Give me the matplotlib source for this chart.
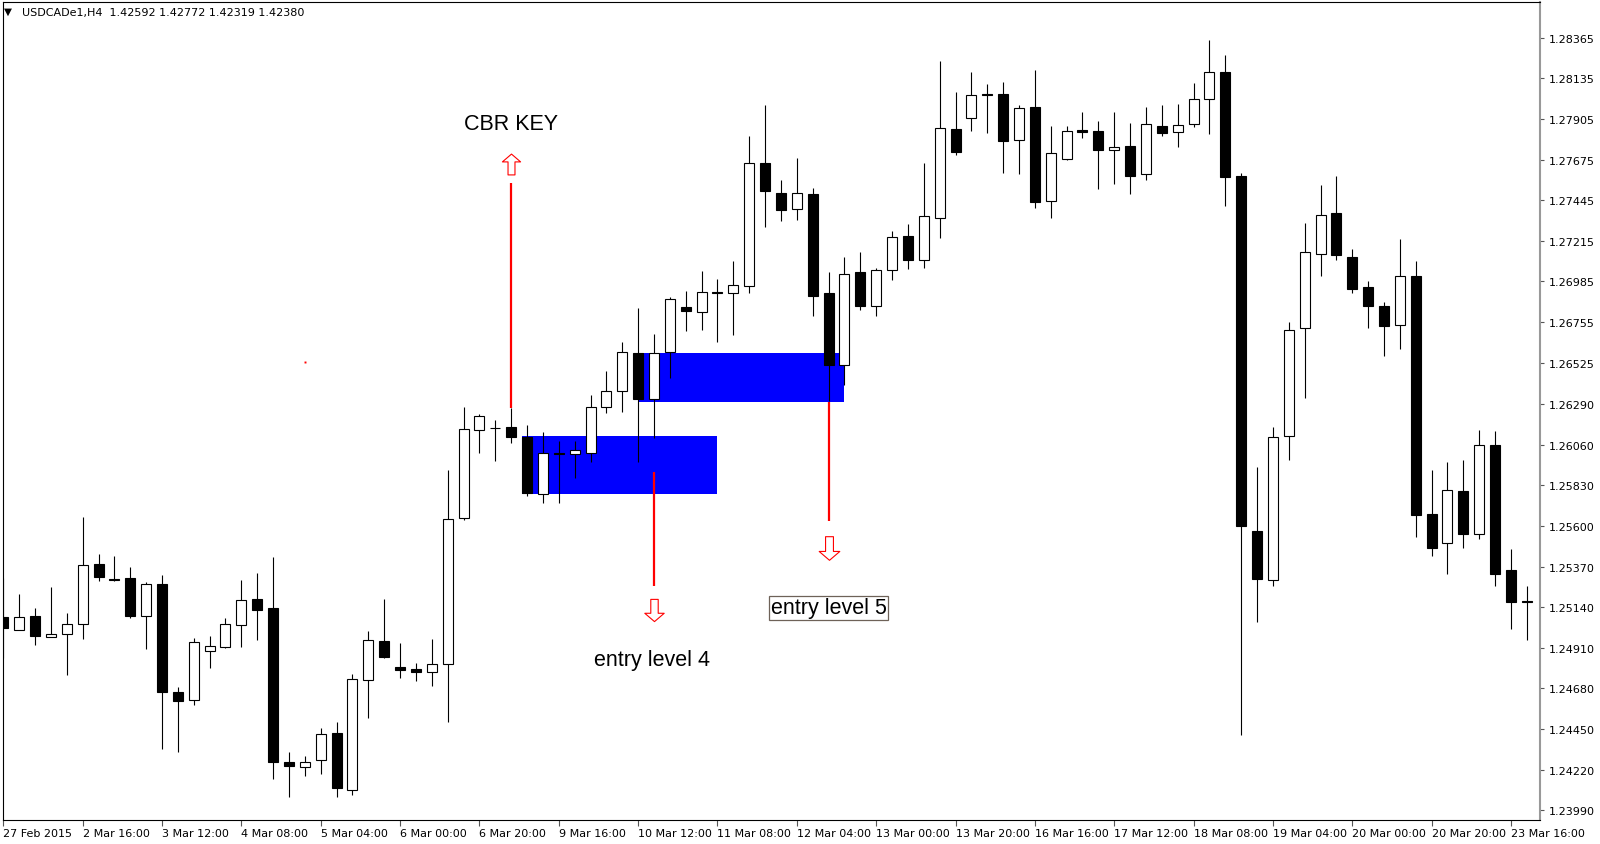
import numpy as np
import matplotlib.pyplot as plt
from matplotlib.path import Path

# USDCAD H4 candles, 27 Feb 2015 20:00 .. 23 Mar 2015 20:00
opens = [1.25086, 1.25010, 1.25088, 1.24971, 1.24986, 1.25046, 1.25386, 1.25296, 1.25303, 1.25091,
         1.25269, 1.24658, 1.24613, 1.24891, 1.24912, 1.25037, 1.25186, 1.25135, 1.24263, 1.24235,
         1.24274, 1.24425, 1.24104, 1.24729, 1.24948, 1.24803, 1.24791, 1.24774, 1.24820, 1.25643,
         1.26145, 1.26155, 1.26162, 1.26105, 1.25779, 1.26013, 1.26006, 1.26011, 1.26276, 1.26365,
         1.26580, 1.26319, 1.26584, 1.26842, 1.26814, 1.26925, 1.26917, 1.26959, 1.27656, 1.27487,
         1.27397, 1.27482, 1.26917, 1.26513, 1.27039, 1.26846, 1.27048, 1.27243, 1.27105, 1.27346,
         1.27849, 1.27909, 1.28044, 1.28049, 1.27784, 1.27972, 1.27443, 1.27679, 1.27843, 1.27836,
         1.27730, 1.27752, 1.27591, 1.27864, 1.27830, 1.27875, 1.28019, 1.28174, 1.27585, 1.25574,
         1.25296, 1.26107, 1.26722, 1.27143, 1.27370, 1.27121, 1.26952, 1.26843, 1.26738, 1.27013,
         1.25665, 1.25503, 1.25798, 1.25554, 1.26061, 1.25350, 1.25172]
highs = [1.25303, 1.25213, 1.25133, 1.25253, 1.25105, 1.25650, 1.25439, 1.25431, 1.25369, 1.25281,
         1.25320, 1.24686, 1.24965, 1.24978, 1.25079, 1.25294, 1.25333, 1.25422, 1.24319, 1.24296,
         1.24455, 1.24489, 1.24761, 1.25005, 1.25186, 1.24937, 1.24826, 1.24959, 1.25917, 1.26272,
         1.26234, 1.26202, 1.26268, 1.26172, 1.26130, 1.26079, 1.26083, 1.26342, 1.26475, 1.26640,
         1.26833, 1.26687, 1.26897, 1.26933, 1.27043, 1.26996, 1.27099, 1.27807, 1.27983, 1.27561,
         1.27684, 1.27516, 1.27039, 1.27122, 1.27152, 1.27060, 1.27271, 1.27309, 1.27656, 1.28236,
         1.28058, 1.28173, 1.28102, 1.28113, 1.27983, 1.28184, 1.27864, 1.27864, 1.27943, 1.27892,
         1.27943, 1.27880, 1.27972, 1.27983, 1.27989, 1.28109, 1.28350, 1.28265, 1.27602, 1.25931,
         1.26158, 1.26757, 1.27318, 1.27534, 1.27580, 1.27168, 1.26985, 1.26871, 1.27225, 1.27098,
         1.25917, 1.25962, 1.25976, 1.26146, 1.26140, 1.25469, 1.25257]
lows = [1.24852, 1.25008, 1.24927, 1.24970, 1.24757, 1.24958, 1.25290, 1.25286, 1.25077, 1.24901,
        1.24335, 1.24321, 1.24587, 1.24794, 1.24908, 1.24914, 1.24952, 1.24166, 1.24064, 1.24182,
        1.24193, 1.24064, 1.24076, 1.24513, 1.24854, 1.24739, 1.24719, 1.24695, 1.24488, 1.25634,
        1.26015, 1.25969, 1.26068, 1.25768, 1.25729, 1.25729, 1.25869, 1.25962, 1.26240, 1.26244,
        1.25964, 1.26096, 1.26440, 1.26706, 1.26710, 1.26641, 1.26683, 1.26917, 1.27296, 1.27329,
        1.27335, 1.26787, 1.26307, 1.26401, 1.26824, 1.26789, 1.26994, 1.27053, 1.27063, 1.27233,
        1.27703, 1.27839, 1.27828, 1.27599, 1.27592, 1.27399, 1.27343, 1.27674, 1.27796, 1.27507,
        1.27536, 1.27480, 1.27558, 1.27807, 1.27745, 1.27862, 1.27820, 1.27415, 1.24413, 1.25053,
        1.25257, 1.25974, 1.26327, 1.27018, 1.27104, 1.26918, 1.26722, 1.26563, 1.26602, 1.25540,
        1.25427, 1.25326, 1.25474, 1.25526, 1.25257, 1.25016, 1.24954]
closes = [1.25022, 1.25083, 1.24976, 1.24988, 1.25043, 1.25380, 1.25312, 1.25294, 1.25091, 1.25269,
          1.24661, 1.24607, 1.24941, 1.24920, 1.25043, 1.25179, 1.25125, 1.24263, 1.24240, 1.24263,
          1.24420, 1.24117, 1.24735, 1.24952, 1.24856, 1.24784, 1.24774, 1.24816, 1.25639, 1.26151,
          1.26224, 1.26152, 1.26105, 1.25785, 1.26015, 1.26010, 1.26030, 1.26276, 1.26364, 1.26584,
          1.26319, 1.26578, 1.26887, 1.26817, 1.26924, 1.26917, 1.26963, 1.27656, 1.27497, 1.27391,
          1.27484, 1.26903, 1.26513, 1.27027, 1.26846, 1.27050, 1.27235, 1.27105, 1.27354, 1.27853,
          1.27717, 1.28043, 1.28041, 1.27779, 1.27966, 1.27437, 1.27711, 1.27836, 1.27830, 1.27728,
          1.27747, 1.27585, 1.27875, 1.27824, 1.27870, 1.28017, 1.28169, 1.27577, 1.25597, 1.25302,
          1.26101, 1.26710, 1.27149, 1.27364, 1.27135, 1.26940, 1.26843, 1.26733, 1.27013, 1.25662,
          1.25474, 1.25803, 1.25554, 1.26061, 1.25330, 1.25169, 1.25169]

date_labels = ['27 Feb 2015', '2 Mar 16:00', '3 Mar 12:00', '4 Mar 08:00', '5 Mar 04:00',
               '6 Mar 00:00', '6 Mar 20:00', '9 Mar 16:00', '10 Mar 12:00', '11 Mar 08:00',
               '12 Mar 04:00', '13 Mar 00:00', '13 Mar 20:00', '16 Mar 16:00', '17 Mar 12:00',
               '18 Mar 08:00', '19 Mar 04:00', '20 Mar 00:00', '20 Mar 20:00', '23 Mar 16:00']
price_ticks = ['1.28365', '1.28135', '1.27905', '1.27675', '1.27445', '1.27215', '1.26985',
               '1.26755', '1.26525', '1.26290', '1.26060', '1.25830', '1.25600', '1.25370',
               '1.25140', '1.24910', '1.24680', '1.24450', '1.24220', '1.23990']

# supply/demand zones (bar index from, bar index to, low, high)
zone1 = (32.7, 44.95, 1.25779, 1.26108)
zone2 = (40.0, 52.95, 1.26300, 1.26580)

header = 'USDCADe1,H4  1.42592 1.42772 1.42319 1.42380'

opens = np.array(opens)
closes = np.array(closes)
x = np.arange(len(opens))

fig = plt.figure(figsize=(16, 8.45), dpi=100)
ax = fig.add_axes([3/1600, 1 - 821/845, 1537/1600, 818/845])

# zones
for z in (zone1, zone2):
    ax.fill_between([z[0], z[1]], z[2], z[3], color='#0000ff', lw=0, zorder=1)

# candles
bull = closes > opens
body_lo = np.minimum(opens, closes)
body_h = np.maximum(np.abs(closes - opens), 0.00003)
ax.vlines(x, lows, highs, colors='black', lw=0.8, zorder=2)
ax.bar(x, body_h, bottom=body_lo, width=0.63,
       color=np.where(bull, 'white', 'black'), edgecolor='black', linewidth=0.8, zorder=3)

# red markers
ax.vlines([32], 1.26268, 1.27544, colors='red', lw=1.6, zorder=4)
ax.vlines([41], 1.25257, 1.25907, colors='red', lw=1.6, zorder=4)
ax.vlines([52], 1.25628, 1.26300, colors='red', lw=1.6, zorder=4)
ax.plot([19], [1.26529], marker='s', ms=1.4, color='red', mew=0)

down = Path([(0, -12), (10.5, -3), (4, -3), (4, 12), (-4, 12), (-4, -3), (-10.5, -3), (0, -12)],
            closed=True)
up = Path([(0, 12), (10.5, 3), (4, 3), (4, -12), (-4, -12), (-4, 3), (-10.5, 3), (0, 12)],
          closed=True)
ax.plot([32], [1.27650], marker=up, ms=15, mfc='white', mec='red', mew=0.8, ls='none', zorder=5)
ax.plot([41], [1.25124], marker=down, ms=16, mfc='white', mec='red', mew=0.8, ls='none', zorder=5)
ax.plot([52], [1.25476], marker=down, ms=17, mfc='white', mec='red', mew=0.8, ls='none', zorder=5)

tfont = dict(family='Liberation Sans', fontsize=15.5, color='black', ha='center', va='center')
ax.text(32, 1.27880, 'CBR KEY', **tfont)
ax.text(40.9, 1.24845, 'entry level 4', **tfont)
ax.text(52, 1.25135, 'entry level 5', zorder=6,
        bbox=dict(boxstyle='square,pad=0.08', fc='white', ec='#6e6258', lw=0.9), **tfont)

# axes
ax.set_xlim(-0.02, 96.83)
ax.set_ylim(1.23934, 1.28568)
ax.set_xticks(x[::5])
ax.set_xticklabels(date_labels, fontsize=8)
for lbl in ax.get_xticklabels():
    lbl.set_ha('left')
ax.yaxis.tick_right()
ax.set_yticks([float(t) for t in price_ticks])
ax.set_yticklabels(price_ticks, fontsize=8)
ax.tick_params(axis='y', length=3, width=0.8, color='#555555', pad=3)
ax.tick_params(axis='x', length=4, width=0.8, color='#555555', pad=2)
for s in ('left', 'top', 'bottom'):
    ax.spines[s].set_color('black')
    ax.spines[s].set_linewidth(0.8)
ax.spines['right'].set_color('#999999')
ax.spines['right'].set_linewidth(1.5)

fig.text(4/1600, 1 - 12/845, '\u25bc', fontsize=7.5, va='center', color='black')
fig.text(22/1600, 1 - 13/845, header, fontsize=8, va='center', color='black')

fig.savefig('out.png', dpi=100, facecolor='white')
